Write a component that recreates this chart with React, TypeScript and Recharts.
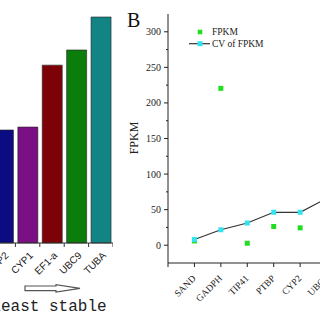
import { BarChart, Bar, XAxis, YAxis, Cell, LineChart, Line } from 'recharts';

// panel A (only the right end is visible)
const barGenes = ['CYP2', 'CYP1', 'EF1-a', 'UBC9', 'TUBA'];
const barValues = [0.5, 0.513, 0.787, 0.854, 1.0];
const barColors = ['#0c0c82', '#7b0f84', '#7d0208', '#0b7d0b', '#138484'];

// panel B
const genes = ['SAND', 'GADPH', 'TIP41', 'PTBP', 'CYP2', 'UBC9'];
const fpkm = [6, 220.5, 2.8, 26.3, 24.4, null];
const cvFpkm = [8.1, 21.7, 31.2, 46.3, 46.3, 65.7];
const yTicks = [0, 25, 50, 75, 100, 125, 150, 175, 200, 225, 250, 275, 300];
const xTicks = [0, 1, 2, 3, 4, 5, 6, 7];

const barData = barGenes.map((g, i) => ({ gene: g, value: barValues[i] }));
const lineData = genes.map((g, i) => ({ x: i + 1, gene: g, fpkm: fpkm[i], cv: cvFpkm[i] }));

const serif = 'Liberation Serif';

const BarTick = (props: any) => {
  const { x, y, payload } = props;
  return (
    <g>
      <line x1={x + 12.2} x2={x + 12.2} y1={y} y2={y + 4} stroke="#333" />
      <text transform={`translate(${x + 6},${y + 13}) rotate(-45)`} textAnchor="end"
        fontSize={10} fontFamily="Liberation Sans" fill="#222">{payload.value}</text>
    </g>
  );
};

const YTick = (props: any) => {
  const { x, y, payload } = props;
  const major = payload.value % 50 === 0;
  return (
    <g>
      <line x1={x} x2={x - (major ? 4 : 2)} y1={y} y2={y} stroke="#222" />
      {major && (
        <text x={x - 7} y={y} dy={3.5} textAnchor="end" fontSize={10} fontFamily={serif} fill="#222">
          {payload.value}
        </text>
      )}
    </g>
  );
};

const XTick = (props: any) => {
  const { x, y, payload } = props;
  const label = genes[payload.value - 1];
  return (
    <g>
      <line x1={x} x2={x} y1={y} y2={y + 4} stroke="#222" />
      {label && (
        <text transform={`translate(${x + 2},${y + 16}) rotate(-45)`} textAnchor="end"
          fontSize={9.5} fontFamily={serif} fill="#222">{label}</text>
      )}
    </g>
  );
};

const square = (color: string) => (props: any) => {
  const { cx, cy, index, value } = props;
  if (value == null || cy == null) return <g key={index} />;
  return <rect key={index} x={cx - 2.5} y={cy - 2.5} width={5} height={5} fill={color} />;
};

export default function App() {
  return (
    <div style={{ position: 'fixed', left: 0, top: 0, width: 320, height: 320, overflow: 'hidden', background: '#fff' }}>
      <div style={{ position: 'absolute', left: -9, top: 0 }}>
        <BarChart width={122} height={320} data={barData} barCategoryGap="10%"
          margin={{ top: 17, right: 0, left: 0, bottom: 47 }}>
          <XAxis dataKey="gene" height={30} interval={0} tickLine={false} tickSize={0} tickMargin={0}
            tick={BarTick} axisLine={{ stroke: '#333' }} />
          <YAxis hide domain={[0, 1]} />
          <Bar dataKey="value" isAnimationActive={false} stroke="#222" strokeWidth={0.6}>
            {barData.map((d, i) => <Cell key={d.gene} fill={barColors[i]} />)}
          </Bar>
        </BarChart>
      </div>
      <div style={{ position: 'absolute', left: 0, top: 0 }}>
        <LineChart width={360} height={320} data={lineData}
          margin={{ top: 14, right: 7, left: 128, bottom: 17 }}>
          <XAxis xAxisId="top" orientation="top" type="number" dataKey="x" domain={[0, 7]} height={0}
            tick={false} tickLine={false} axisLine={{ stroke: '#222' }} />
          <XAxis type="number" dataKey="x" domain={[0, 7]} ticks={xTicks} interval={0} height={40}
            tickLine={false} tickSize={0} tickMargin={0} tick={XTick} axisLine={{ stroke: '#222' }} />
          <YAxis type="number" domain={[-25, 325]} ticks={yTicks} interval={0} width={40}
            tickLine={false} tickSize={0} tickMargin={0} tick={YTick} axisLine={{ stroke: '#222' }} />
          <Line dataKey="fpkm" stroke="none" isAnimationActive={false} dot={square('#22dd22')} activeDot={false} />
          <Line dataKey="cv" stroke="#333" strokeWidth={1.2} isAnimationActive={false}
            dot={square('#33e3f0')} activeDot={false} />
        </LineChart>
      </div>
      <svg width={320} height={320} style={{ position: 'absolute', left: 0, top: 0, pointerEvents: 'none', zIndex: 2 }}>
        <text x={127} y={27} fontSize={20} fontFamily={serif} fill="#111">B</text>
        <text transform="translate(138,138) rotate(-90)" textAnchor="middle" fontSize={12}
          fontFamily={serif} fill="#222">FPKM</text>
        <rect x={197.7} y={29.7} width={4.6} height={4.6} fill="#22dd22" />
        <text x={212} y={35.3} fontSize={9.5} fontFamily={serif} fill="#222">FPKM</text>
        <line x1={189} x2={210} y1={43.7} y2={43.7} stroke="#333" strokeWidth={1.2} />
        <rect x={197.5} y={41.2} width={5} height={5} fill="#33e3f0" />
        <text x={212} y={47} fontSize={9.5} fontFamily={serif} fill="#222">CV of FPKM</text>
        <path d="M25,286 L56,286 L56,284.6 L80,288.3 L56,292 L56,290.6 L25,290.6 Z"
          fill="#fff" stroke="#555" strokeWidth={1.2} />
        <text x={-8.6} y={311} fontSize={16} fontFamily="Liberation Mono" fill="#222">Least stable</text>
      </svg>
    </div>
  );
}
